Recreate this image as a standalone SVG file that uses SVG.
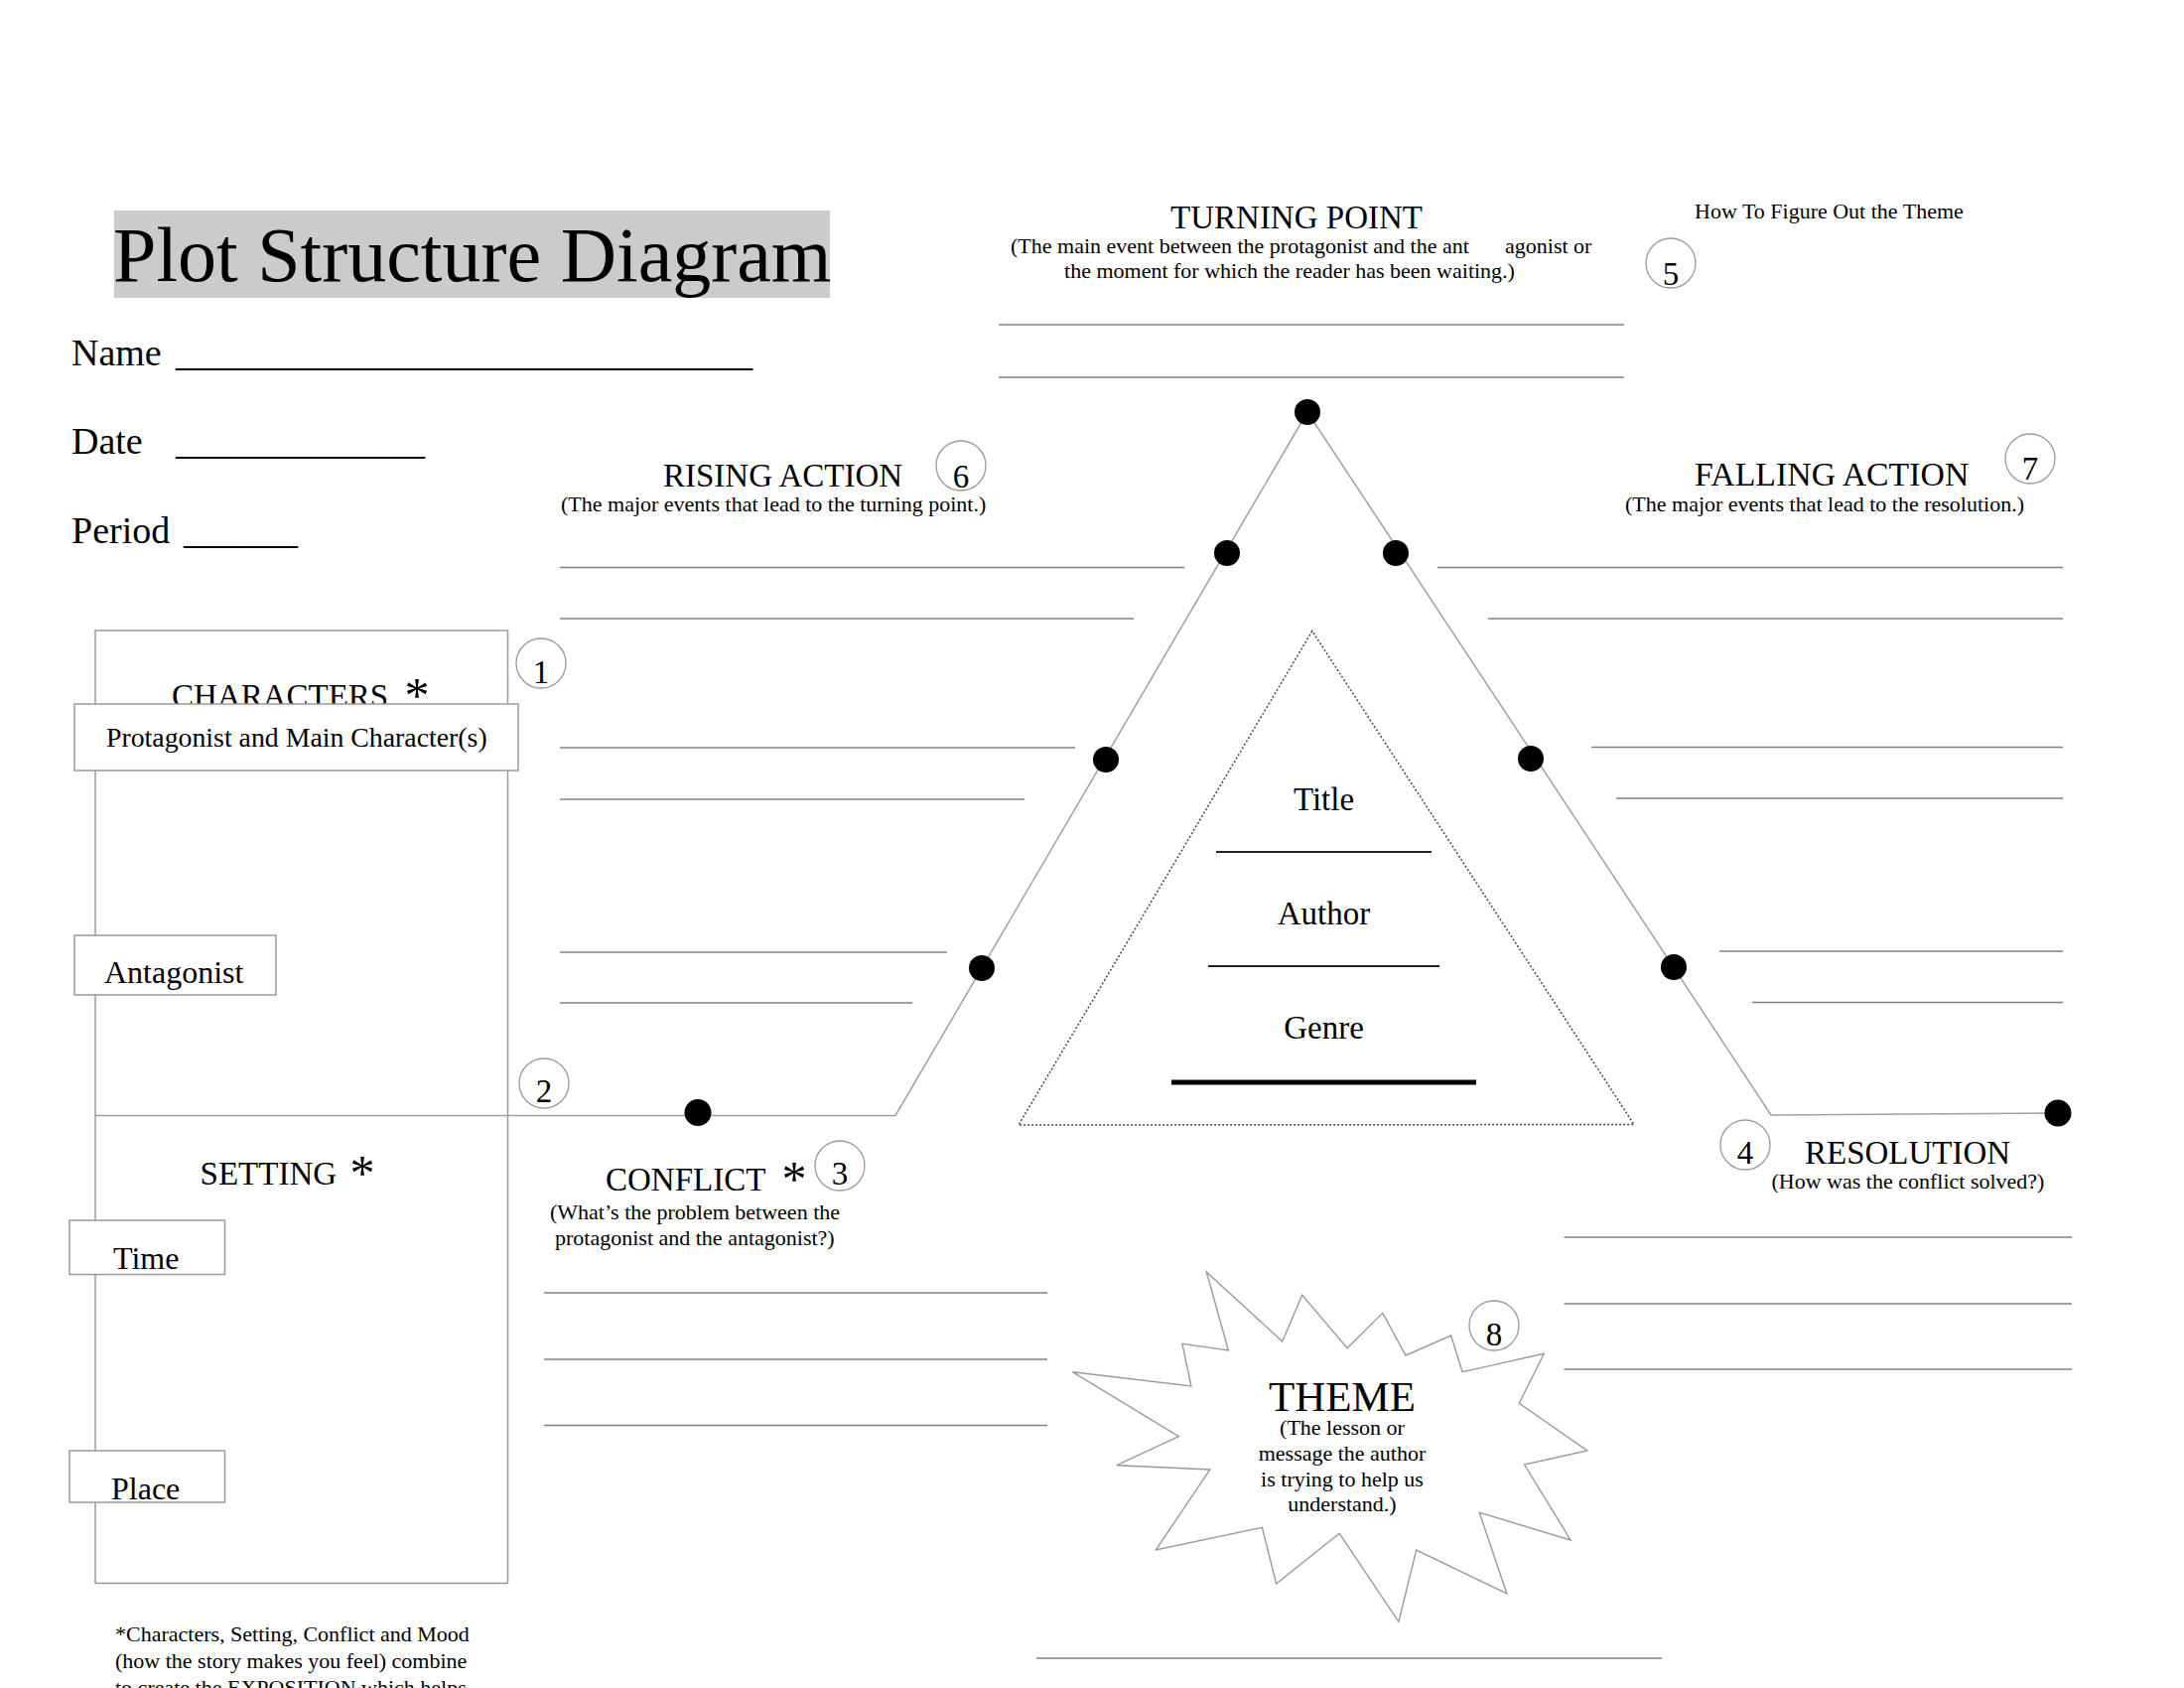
<svg xmlns="http://www.w3.org/2000/svg" width="2200" height="1700" viewBox="0 0 2200 1700">
<style>
text{font-family:"Liberation Serif","Times New Roman",serif;fill:#000}
.h{font-size:33px}
.s{font-size:22px}
.f{font-size:38px}
.n{font-size:33px;text-anchor:middle}
.ast{font-size:50px}
.wl{stroke:#808080;stroke-width:1.5;fill:none}
.bx{fill:#fff;stroke:#9a9a9a;stroke-width:1.5}
.ci{fill:#fff;stroke:#9a9a9a;stroke-width:1.3}
.dot{fill:#000}
.pl{stroke:#a0a0a0;stroke-width:1.5;fill:none}
</style>
<rect width="2200" height="1700" fill="#fff"/>

<g id="header">
<rect x="115" y="212" width="721" height="88" fill="#cbcbcb"/>
<text x="114" y="283" font-size="78">Plot Structure Diagram</text>
<text x="72" y="368" class="f">Name</text>
<text x="177" y="368" class="f" textLength="581" lengthAdjust="spacingAndGlyphs">______________________________</text>
<text x="72" y="457" class="f">Date</text>
<text x="177" y="457" class="f" textLength="251" lengthAdjust="spacingAndGlyphs">_____________</text>
<text x="72" y="547" class="f">Period</text>
<text x="185" y="547" class="f" textLength="115" lengthAdjust="spacingAndGlyphs">______</text>
</g>

<g id="connectors">
<path class="pl" d="M96 1123.5 L902 1123.5 L1317 415 L1784 1123 L2073 1121"/>
</g>

<g id="characters">
<rect x="96" y="635" width="415.5" height="959.5" fill="none" stroke="#9a9a9a" stroke-width="1.5"/>
<text x="173" y="712" class="h">CHARACTERS</text>
<text x="407.5" y="717" class="ast">*</text>
<rect class="bx" x="75" y="709" width="447" height="67"/>
<text x="107" y="752" font-size="27.8">Protagonist and Main Character(s)</text>
<rect class="bx" x="75" y="942" width="203" height="60"/>
<text x="105" y="990" font-size="32">Antagonist</text>
</g>

<g id="setting">
<text x="201.6" y="1193" class="h">SETTING</text>
<text x="352.5" y="1197.5" class="ast">*</text>
<rect class="bx" x="70" y="1229" width="156.5" height="54.5"/>
<text x="114" y="1278" font-size="32">Time</text>
<rect class="bx" x="70" y="1461" width="156.5" height="52"/>
<text x="112" y="1510" font-size="32">Place</text>
</g>

<g id="footnote">
<text x="116" y="1653" class="s">*Characters, Setting, Conflict and Mood</text>
<text x="116" y="1680" class="s">(how the story makes you feel) combine</text>
<text x="116" y="1707" class="s">to create the EXPOSITION which helps</text>
</g>

<g id="turning-point">
<text x="1306" y="230" class="h" text-anchor="middle">TURNING POINT</text>
<text x="1018" y="255" class="s">(The main event between the protagonist and the ant</text>
<text x="1516" y="255" class="s">agonist or</text>
<text x="1299" y="280" class="s" text-anchor="middle">the moment for which the reader has been waiting.)</text>
<line class="wl" x1="1006" y1="327" x2="1636" y2="327"/>
<line class="wl" x1="1006" y1="380" x2="1636" y2="380"/>
</g>

<g id="how-to-theme">
<text x="1707" y="220" class="s">How To Figure Out the Theme</text>
</g>

<g id="rising-action">
<text x="668" y="490" class="h">RISING ACTION</text>
<text x="565" y="515" class="s">(The major events that lead to the turning point.)</text>
<line class="wl" x1="564" y1="571.5" x2="1193" y2="571.5"/>
<line class="wl" x1="564" y1="623" x2="1142" y2="623"/>
<line class="wl" x1="564" y1="753" x2="1083" y2="753"/>
<line class="wl" x1="564" y1="805" x2="1032" y2="805"/>
<line class="wl" x1="564" y1="959" x2="954" y2="959"/>
<line class="wl" x1="564" y1="1010" x2="919" y2="1010"/>
</g>

<g id="falling-action">
<text x="1707" y="489" font-size="33.8">FALLING ACTION</text>
<text x="1637" y="515" class="s">(The major events that lead to the resolution.)</text>
<line class="wl" x1="1448" y1="571.5" x2="2078" y2="571.5"/>
<line class="wl" x1="1499" y1="623" x2="2078" y2="623"/>
<line class="wl" x1="1603" y1="752.5" x2="2078" y2="752.5"/>
<line class="wl" x1="1628" y1="804" x2="2078" y2="804"/>
<line class="wl" x1="1732" y1="958" x2="2078" y2="958"/>
<line class="wl" x1="1765" y1="1009.5" x2="2078" y2="1009.5"/>
</g>

<g id="conflict">
<text x="610" y="1199" class="h">CONFLICT</text>
<text x="787.5" y="1203.5" class="ast">*</text>
<text x="554" y="1228" class="s">(What’s the problem between the</text>
<text x="559" y="1254" class="s">protagonist and the antagonist?)</text>
<line class="wl" x1="548" y1="1302" x2="1055" y2="1302"/>
<line class="wl" x1="548" y1="1369" x2="1055" y2="1369"/>
<line class="wl" x1="548" y1="1435.5" x2="1055" y2="1435.5"/>
</g>

<g id="resolution">
<text x="1818" y="1172" class="h">RESOLUTION</text>
<text x="1784.5" y="1197" class="s">(How was the conflict solved?)</text>
<line class="wl" x1="1575.5" y1="1246" x2="2087" y2="1246"/>
<line class="wl" x1="1575.5" y1="1313" x2="2087" y2="1313"/>
<line class="wl" x1="1575.5" y1="1379" x2="2087" y2="1379"/>
</g>

<g id="title-author-genre">
<polygon points="1321.8,635.5 1026,1133 1646,1132.5" fill="none" stroke="#444" stroke-width="1.5" stroke-dasharray="2 2"/>
<text x="1333.5" y="816" class="h" text-anchor="middle">Title</text>
<line x1="1225" y1="858" x2="1442" y2="858" stroke="#222" stroke-width="2"/>
<text x="1333.5" y="931" class="h" text-anchor="middle">Author</text>
<line x1="1217" y1="973" x2="1450" y2="973" stroke="#222" stroke-width="2"/>
<text x="1333.5" y="1046" class="h" text-anchor="middle">Genre</text>
<line x1="1180" y1="1090" x2="1487" y2="1090" stroke="#000" stroke-width="5"/>
</g>

<g id="theme">
<polygon points="1215.3,1281 1237.4,1360 1191,1353.3 1199.9,1396 1080.3,1381.7 1187.4,1446.7 1124.9,1475.7 1218.9,1480 1164.2,1561 1271.4,1538.3 1285.6,1595 1349.2,1544.3 1408.9,1633.3 1426.7,1561 1517.8,1605 1490.3,1523.3 1582.1,1551 1535.6,1475 1598.9,1461 1530.3,1413.3 1555.3,1363.3 1473.1,1381.7 1461.7,1345 1416,1365 1392.8,1322.3 1357.1,1357.7 1311.7,1304.3 1291.7,1351" fill="#fff" stroke="#9a9a9a" stroke-width="1.4"/>
<text x="1352" y="1421" font-size="43" text-anchor="middle">THEME</text>
<text x="1352" y="1445" class="s" text-anchor="middle">(The lesson or</text>
<text x="1352" y="1471" class="s" text-anchor="middle">message the author</text>
<text x="1352" y="1497" class="s" text-anchor="middle">is trying to help us</text>
<text x="1352" y="1522" class="s" text-anchor="middle">understand.)</text>
<line class="wl" x1="1044" y1="1670" x2="1674" y2="1670"/>
</g>

<g id="plot-points">
<circle class="dot" cx="703" cy="1120.5" r="13.5"/>
<circle class="dot" cx="989" cy="975" r="13"/>
<circle class="dot" cx="1114" cy="765" r="13"/>
<circle class="dot" cx="1236" cy="557" r="13"/>
<circle class="dot" cx="1317" cy="415" r="13"/>
<circle class="dot" cx="1406" cy="557" r="13"/>
<circle class="dot" cx="1542" cy="764" r="13"/>
<circle class="dot" cx="1686" cy="974" r="13"/>
<circle class="dot" cx="2073" cy="1121" r="13.5"/>
</g>

<g id="step-numbers">
<g id="step-1"><circle class="ci" cx="545" cy="668" r="25"/><text x="545" y="688" class="n">1</text></g>
<g id="step-2"><circle class="ci" cx="548" cy="1091" r="25"/><text x="548" y="1110" class="n">2</text></g>
<g id="step-3"><circle class="ci" cx="846" cy="1174" r="25"/><text x="846" y="1193" class="n">3</text></g>
<g id="step-4"><circle class="ci" cx="1758" cy="1153" r="25"/><text x="1758" y="1172" class="n">4</text></g>
<g id="step-5"><circle class="ci" cx="1683" cy="265" r="25"/><text x="1683" y="287" class="n">5</text></g>
<g id="step-6"><circle class="ci" cx="968" cy="469" r="25"/><text x="968" y="491" class="n">6</text></g>
<g id="step-7"><circle class="ci" cx="2045" cy="462" r="25"/><text x="2045" y="483" class="n">7</text></g>
<g id="step-8"><circle class="ci" cx="1505" cy="1335" r="25"/><text x="1505" y="1355" class="n">8</text></g>
</g>
</svg>
